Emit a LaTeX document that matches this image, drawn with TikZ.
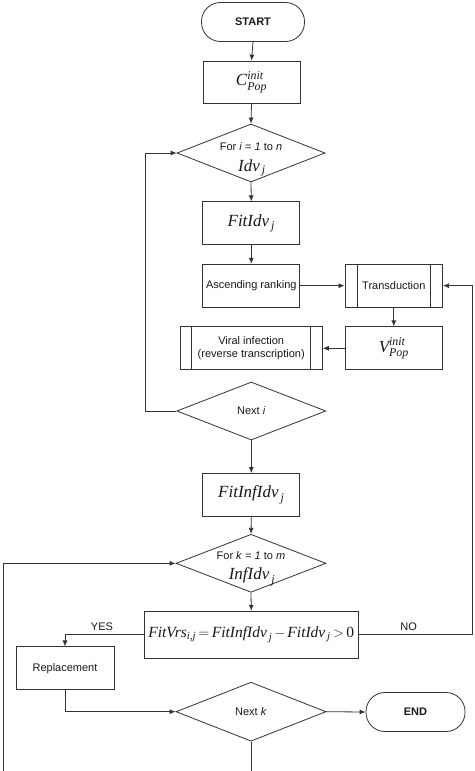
\documentclass[tikz,border=0pt]{standalone}
\usepackage{amsmath}
\usepackage{fontspec}
\setmainfont{Liberation Sans}
\newfontfamily\tms{Liberation Serif}
\usetikzlibrary{shapes.geometric,arrows.meta}
\newcommand\tv[1]{\text{\tms\itshape #1}}
\begin{document}
\begin{tikzpicture}[x=1pt,y=-1pt,
  line width=0.8pt,
  every node/.style={text=black!90},
  txt/.style={font=\fontsize{11}{13}\selectfont},
  mathf/.style={font=\fontsize{17}{19}\selectfont},
  mathg/.style={font=\fontsize{15.5}{18}\selectfont},
  box/.style={draw=black!80, rectangle, inner sep=0pt, fill=white},
  proc/.style={box, path picture={
     \draw[black!80,line width=0.8pt] ([xshift=#1]path picture bounding box.north west) -- ([xshift=#1]path picture bounding box.south west);
     \draw[black!80,line width=0.8pt] ([xshift=-#1]path picture bounding box.north east) -- ([xshift=-#1]path picture bounding box.south east);}},
  dia/.style={draw=black!80, diamond, inner sep=0pt},
  term/.style={draw=black!80, rectangle, rounded corners=19pt, inner sep=0pt},
  arr/.style={draw=black!80, -{Latex[length=6pt,width=5pt]}},
  lin/.style={draw=black!80}]
\useasboundingbox (0,0) rectangle (474,771);
\clip (0,0) rectangle (474,771);
\fill[white] (0,0) rectangle (474,771);

\node[term, minimum width=103pt, minimum height=39pt, txt] (start) at (253,22) {\bfseries START};
\node[box, minimum width=97pt, minimum height=42pt, mathf] (cpop) at (251.5,82) {$\tv{C}^{\tv{init}}_{\tv{Pop}}$};
\node[dia, minimum width=148pt, minimum height=58pt] (d1) at (251,153) {};
\node[txt] (d1a) at (251,147) {For \textit{i} = \textit{1} to \textit{n}};
\node[mathf] (d1b) at (252,168) {$\tv{Idv}_{\,\tv{j}}$};
\node[box, minimum width=97pt, minimum height=43pt, mathf] (fit) at (251.3,223.3) {$\tv{FitIdv}_{\,\tv{j}}$};
\node[box, minimum width=97pt, minimum height=43pt, txt] (asc) at (251.3,285.7) {Ascending ranking};
\node[proc=12.5pt, minimum width=97.7pt, minimum height=43pt, txt] (trans) at (393.8,285.7) {Transduction};
\node[box, minimum width=97.7pt, minimum height=43pt, mathf] (vpop) at (393.8,348.3) {$\tv{V}^{\tv{init}}_{\tv{Pop}}$};
\node[proc=11.7pt, minimum width=142.3pt, minimum height=43pt, txt, align=center] (viral) at (251.2,348.3) {Viral infection\\(reverse transcription)};
\node[dia, minimum width=149pt, minimum height=58pt] (nexti) at (251.3,411) {};
\node[txt] (nextit) at (251.3,411) {Next \textit{i}};
\node[box, minimum width=97pt, minimum height=43pt, mathf] (fitinf) at (251.3,495) {$\tv{FitInfIdv}_{\,\tv{j}}$};
\node[dia, minimum width=150pt, minimum height=58pt] (dk) at (251,563.3) {};
\node[txt] (dka) at (251,556) {For \textit{k} = \textit{1} to \textit{m}};
\node[mathf] (dkb) at (252,577) {$\tv{InfIdv}_{\,\tv{j}}$};
\node[box, minimum width=214pt, minimum height=47pt, mathg] (vrs) at (251.3,634.7) {$\thickmuskip=3mu \medmuskip=2.5mu \tv{FitVrs}_{\tv{i,j}} = \tv{FitInfIdv}_{\,\tv{j}} - \tv{FitIdv}_{\,\tv{j}} > \text{\tms 0}$};
\node[box, minimum width=98pt, minimum height=43pt, txt] (repl) at (65,668.3) {Replacement};
\node[dia, minimum width=150pt, minimum height=59pt] (nk) at (251,711.7) {};
\node[txt] (nkt) at (251,711.7) {Next \textit{k}};
\node[term, minimum width=99pt, minimum height=39pt, txt] (end) at (415.5,712) {\bfseries END};
\node[txt] (yes) at (102,626.7) {YES};
\node[txt] (no) at (408.7,626.7) {NO};

\draw[arr] (start.south) -- (cpop.north);
\draw[arr] (cpop.south) -- (d1.north);
\draw[arr] (d1.south) -- (fit.north);
\draw[arr] (fit.south) -- (asc.north);
\draw[arr] (asc.east) -- (trans.west);
\draw[arr] (trans.south) -- (vpop.north);
\draw[arr] (vpop.west) -- (viral.east);
\draw[arr] (nexti.west) -- ++(-31,0) |- (d1.west);
\draw[arr] (nexti.south) -- (fitinf.north);
\draw[arr] (fitinf.south) -- (dk.north);
\draw[arr] (dk.south) -- (vrs.north);
\draw[arr] (vrs.west) -| (repl.north);
\draw[arr] (vrs.east) -- ++(114,0) |- (trans.east);
\draw[arr] (repl.south) |- (nk.west);
\draw[arr] (nk.east) -- (end.west);
\coordinate (bl) at (3.3,800);
\draw[arr] (nk.south) -- (251,800) -- (bl) |- (dk.west);
\end{tikzpicture}
\end{document}
